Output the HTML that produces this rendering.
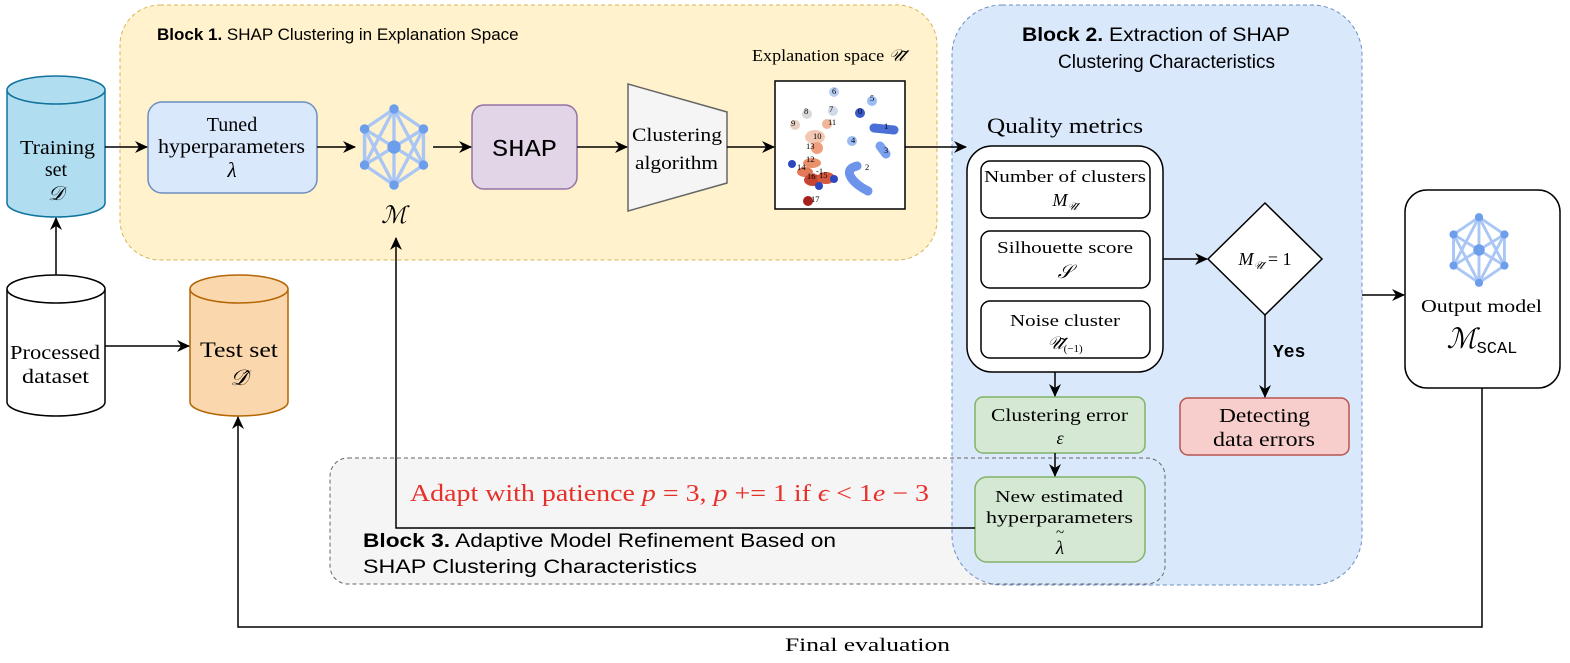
<!DOCTYPE html>
<html><head><meta charset="utf-8"><style>
html,body{margin:0;padding:0;background:#fff}
svg{display:block}
text{font-family:"Liberation Serif",serif;fill:#000}
.s{font-family:"Liberation Sans",sans-serif}
.m{font-family:"Liberation Mono",monospace}
</style></head><body>
<svg width="1570" height="663" viewBox="0 0 1570 663" xmlns="http://www.w3.org/2000/svg">
<defs>
<marker id="a" markerWidth="13" markerHeight="12" refX="12" refY="6" orient="auto" markerUnits="userSpaceOnUse"><path d="M0,0 L13,6 L0,12 L4,6z" fill="#000"/></marker>
<g id="net">
<g stroke="#a9c6f5" stroke-width="3.5" fill="none">
<polygon points="0,-40 31,-19 31,19 0,40 -31,19 -31,-19"/>
<path d="M0,-40L0,40M-31,-19L31,19M31,-19L-31,19M0,-40L-31,19M0,-40L31,19M0,40L-31,-19M0,40L31,-19M-31,-19L-31,19"/>
</g>
<g fill="#6d9eeb"><circle cx="0" cy="-40" r="5"/><circle cx="31" cy="-19" r="5"/><circle cx="31" cy="19" r="5"/><circle cx="0" cy="40" r="5"/><circle cx="-31" cy="19" r="5"/><circle cx="-31" cy="-19" r="5"/><circle cx="0" cy="0" r="7"/></g>
</g>
</defs>
<rect x="120" y="5" width="817" height="255" rx="40" fill="#fff2cc" stroke="#d6b656" stroke-dasharray="4,3"/>
<rect x="330" y="458" width="835" height="126" rx="18" fill="#f5f5f5"/>
<rect x="952" y="5" width="410" height="580" rx="50" fill="#dae8fc" stroke="#6c8ebf" stroke-dasharray="4,3"/>
<rect x="330" y="458" width="835" height="126" rx="18" fill="none" stroke="#666" stroke-dasharray="4,3"/>

<text class="s" x="157" y="40" font-size="17"><tspan font-weight="bold">Block 1.</tspan> SHAP Clustering in Explanation Space</text>
<text class="s" x="1022" y="41" font-size="19" textLength="268" lengthAdjust="spacingAndGlyphs"><tspan font-weight="bold">Block 2.</tspan> Extraction of SHAP</text>
<text class="s" x="1058" y="68" font-size="19" textLength="217" lengthAdjust="spacingAndGlyphs">Clustering Characteristics</text>
<text class="s" x="363" y="547" font-size="19" textLength="473" lengthAdjust="spacingAndGlyphs"><tspan font-weight="bold">Block 3.</tspan> Adaptive Model Refinement Based on</text>
<text class="s" x="363" y="573" font-size="19" textLength="334" lengthAdjust="spacingAndGlyphs">SHAP Clustering Characteristics</text>

<g stroke="#10739e" stroke-width="1.5" fill="#b1ddf0">
<path d="M7,90 L7,203 A49,14 0 0 0 105,203 L105,90"/>
<ellipse cx="56" cy="90" rx="49" ry="14"/>
</g>
<text x="20" y="154" font-size="20" textLength="75" lengthAdjust="spacingAndGlyphs">Training</text>
<text x="56" y="176" font-size="20" text-anchor="middle">set</text>
<text x="56" y="200" font-size="20" text-anchor="middle" font-style="italic">𝒟</text>

<g stroke="#000" stroke-width="1.5" fill="#fff">
<path d="M7,289 L7,402 A49,14 0 0 0 105,402 L105,289"/>
<ellipse cx="56" cy="289" rx="49" ry="14"/>
</g>
<text x="10" y="359" font-size="20" textLength="90" lengthAdjust="spacingAndGlyphs">Processed</text>
<text x="22" y="383" font-size="20" textLength="67" lengthAdjust="spacingAndGlyphs">dataset</text>

<g stroke="#b46504" stroke-width="1.5" fill="#fad7ac">
<path d="M190,289 L190,402 A49,14 0 0 0 288,402 L288,289"/>
<ellipse cx="239" cy="289" rx="49" ry="14"/>
</g>
<text x="200" y="357" font-size="22" textLength="78" lengthAdjust="spacingAndGlyphs">Test set</text>
<text x="239" y="385" font-size="22" text-anchor="middle" font-style="italic">𝒟̂</text>

<rect x="148" y="102" width="169" height="91" rx="14" fill="#dae8fc" stroke="#6c8ebf" stroke-width="1.5"/>
<text x="232" y="131" font-size="20" text-anchor="middle">Tuned</text>
<text x="158" y="153" font-size="20" textLength="147" lengthAdjust="spacingAndGlyphs">hyperparameters</text>
<text x="232" y="177" font-size="21" text-anchor="middle" font-style="italic">λ</text>

<use href="#net" transform="translate(394,147) scale(0.95) translate(-394,-147)" x="394" y="147"/>
<text x="394" y="223" font-size="24" text-anchor="middle" font-style="italic">ℳ</text>

<rect x="472" y="105" width="105" height="84" rx="12" fill="#e1d5e7" stroke="#9673a6" stroke-width="1.5"/>
<text x="492" y="156" font-size="24" style="font-family:'Liberation Mono',monospace" textLength="65" lengthAdjust="spacingAndGlyphs">SHAP</text>

<polygon points="628,84 727,112 727,183 628,211" fill="#f5f5f5" stroke="#666" stroke-width="1.5"/>
<text x="632" y="141" font-size="19" textLength="90" lengthAdjust="spacingAndGlyphs">Clustering</text>
<text x="635" y="169" font-size="19" textLength="83" lengthAdjust="spacingAndGlyphs">algorithm</text>

<text x="752" y="61" font-size="17" textLength="153" lengthAdjust="spacingAndGlyphs">Explanation space <tspan font-style="italic">𝒰̃</tspan></text>
<rect x="775" y="81" width="130" height="128" fill="#fff" stroke="#000" stroke-width="1.5"/>
<g>
<circle cx="834" cy="92" r="5" fill="#b9cff3"/><circle cx="872" cy="101" r="5" fill="#9bbcf3"/>
<circle cx="833" cy="111" r="5" fill="#d2dae8"/><circle cx="860" cy="113" r="5" fill="#3a5bc9"/>
<circle cx="807" cy="114" r="5" fill="#d8d8d8"/><circle cx="795" cy="125" r="5" fill="#e8d0c4"/>
<circle cx="827" cy="124" r="5" fill="#efb79a"/>
<path d="M874,128 L894,130" stroke="#4a6fd6" stroke-width="9" stroke-linecap="round"/>
<ellipse cx="815" cy="137" rx="10" ry="7" fill="#f2c8b3"/>
<circle cx="852" cy="141" r="5" fill="#9bbcf3"/>
<path d="M880,146 L886,154" stroke="#7aa0f0" stroke-width="9" stroke-linecap="round"/>
<circle cx="817" cy="148" r="6" fill="#ef9f7e"/>
<path d="M857,166 C840,170 855,185 868,191" stroke="#6d94ea" stroke-width="9" fill="none" stroke-linecap="round"/>
<circle cx="792" cy="164" r="4" fill="#2b48c0"/>
<ellipse cx="812" cy="163" rx="9" ry="5" fill="#e8906a"/>
<ellipse cx="805" cy="172" rx="8" ry="5" fill="#e27a58"/>
<ellipse cx="813" cy="180" rx="9" ry="6" fill="#c74430"/>
<ellipse cx="826" cy="178" rx="9" ry="6" fill="#d45a40"/>
<circle cx="834" cy="179" r="4" fill="#2b48c0"/><circle cx="819" cy="186" r="4" fill="#2b48c0"/>
<circle cx="808" cy="201" r="5" fill="#a8201c"/>
</g>
<g font-family="Liberation Sans,sans-serif" font-size="8.5" fill="#333">
<text x="832" y="94">6</text><text x="870" y="101">5</text><text x="829" y="112">7</text><text x="858" y="114">0</text><text x="804" y="114">8</text><text x="791" y="126">9</text><text x="828" y="125">11</text><text x="884" y="129">1</text><text x="813" y="139">10</text><text x="851" y="143">4</text><text x="806" y="149">13</text><text x="884" y="153">3</text><text x="806" y="162">12</text><text x="865" y="170">2</text><text x="797" y="170">14</text><text x="816" y="174">-1</text><text x="807" y="179">16</text><text x="819" y="178">15</text><text x="811" y="202">17</text>
</g>

<text x="987" y="133" font-size="22" textLength="156" lengthAdjust="spacingAndGlyphs">Quality metrics</text>
<rect x="967" y="146" width="196" height="226" rx="25" fill="#fff" stroke="#000" stroke-width="1.5"/>
<rect x="981" y="161" width="169" height="57" rx="9" fill="#fff" stroke="#000" stroke-width="1.5"/>
<text x="984" y="182" font-size="17" textLength="162" lengthAdjust="spacingAndGlyphs">Number of clusters</text>
<text x="1065" y="206" font-size="18" text-anchor="middle" font-style="italic">M<tspan font-size="11" dy="4">𝒰̃</tspan></text>
<rect x="981" y="231" width="169" height="57" rx="9" fill="#fff" stroke="#000" stroke-width="1.5"/>
<text x="997" y="253" font-size="17" textLength="136" lengthAdjust="spacingAndGlyphs">Silhouette score</text>
<text x="1065" y="278" font-size="19" text-anchor="middle" font-style="italic">𝒮</text>
<rect x="981" y="301" width="169" height="57" rx="9" fill="#fff" stroke="#000" stroke-width="1.5"/>
<text x="1010" y="326" font-size="17" textLength="110" lengthAdjust="spacingAndGlyphs">Noise cluster</text>
<text x="1065" y="349" font-size="18" text-anchor="middle" font-style="italic">𝒰̃<tspan font-size="11" dy="3" font-style="normal">(−1)</tspan></text>

<polygon points="1265,203 1322,259 1265,315 1208,259" fill="#fff" stroke="#000" stroke-width="1.5"/>
<text x="1265" y="265" font-size="18" text-anchor="middle"><tspan font-style="italic">M</tspan><tspan font-size="11" dy="4" font-style="italic">𝒰̃</tspan><tspan dy="-4"> = 1</tspan></text>
<text class="m" x="1273" y="357" font-size="18" font-weight="bold">Yes</text>

<rect x="975" y="397" width="170" height="56" rx="8" fill="#d5e8d4" stroke="#82b366" stroke-width="1.5"/>
<text x="991" y="421" font-size="18" textLength="137" lengthAdjust="spacingAndGlyphs">Clustering error</text>
<text x="1060" y="444" font-size="18" text-anchor="middle" font-style="italic">ε</text>

<rect x="1180" y="398" width="169" height="57" rx="8" fill="#f8cecc" stroke="#b85450" stroke-width="1.5"/>
<text x="1219" y="422" font-size="20" textLength="91" lengthAdjust="spacingAndGlyphs">Detecting</text>
<text x="1213" y="446" font-size="20" textLength="102" lengthAdjust="spacingAndGlyphs">data errors</text>

<rect x="975" y="477" width="170" height="85" rx="12" fill="#d5e8d4" stroke="#82b366" stroke-width="1.5"/>
<text x="995" y="502" font-size="17" textLength="128" lengthAdjust="spacingAndGlyphs">New estimated</text>
<text x="986" y="523" font-size="17" textLength="147" lengthAdjust="spacingAndGlyphs">hyperparameters</text>
<text x="1060" y="537" font-size="15" text-anchor="middle">~</text>
<text x="1060" y="554" font-size="19" text-anchor="middle" font-style="italic">λ</text>

<text x="410" y="501" font-size="24" style="fill:#e8302a" textLength="519" lengthAdjust="spacingAndGlyphs">Adapt with patience <tspan font-style="italic">p</tspan> = 3, <tspan font-style="italic">p</tspan> += 1 if <tspan font-style="italic">ϵ</tspan> &lt; 1<tspan font-style="italic">e</tspan> − 3</text>

<rect x="1405" y="190" width="155" height="198" rx="22" fill="#fff" stroke="#000" stroke-width="1.5"/>
<use href="#net" transform="translate(1479,250) scale(0.82) translate(-394,-147)" x="394" y="147"/>
<text x="1421" y="312" font-size="18" textLength="121" lengthAdjust="spacingAndGlyphs">Output model</text>
<text x="1482" y="348" font-size="28" text-anchor="middle"><tspan font-style="italic">ℳ</tspan><tspan font-size="17" style="font-family:'Liberation Mono',monospace" dy="5">SCAL</tspan></text>

<g stroke="#000" stroke-width="1.5" fill="none" marker-end="url(#a)">
<path d="M105,147 L147,147"/>
<path d="M317,147 L355,147"/>
<path d="M433,147 L471,147"/>
<path d="M577,147 L627,147"/>
<path d="M727,147 L774,147"/>
<path d="M905,147 L966,147"/>
<path d="M56,275 L56,218"/>
<path d="M105,346 L189,346"/>
<path d="M1163,259 L1207,259"/>
<path d="M1265,315 L1265,397"/>
<path d="M1055,372 L1055,396"/>
<path d="M1055,453 L1055,476"/>
<path d="M1362,295 L1404,295"/>
<path d="M975,528 L396,528 L396,238"/>
<path d="M1482,388 L1482,627 L238,627 L238,417"/>
</g>
<text x="785" y="651" font-size="19" textLength="165" lengthAdjust="spacingAndGlyphs">Final evaluation</text>
</svg>
</body></html>
